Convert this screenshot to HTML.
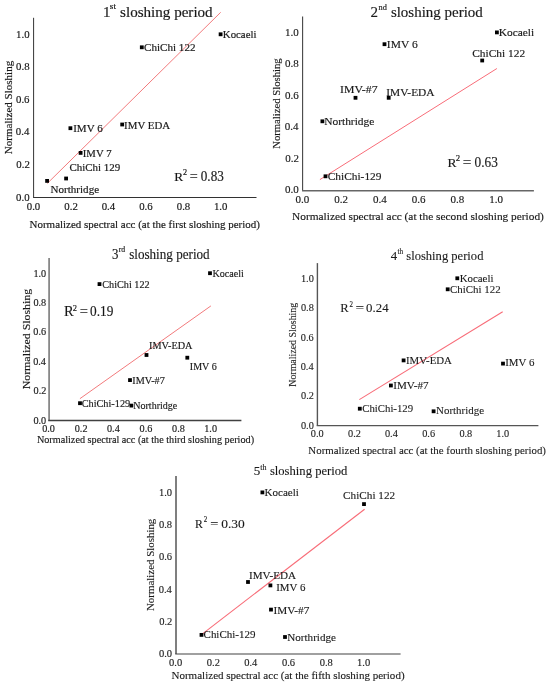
<!DOCTYPE html>
<html><head><meta charset="utf-8"><style>
html,body{margin:0;padding:0;background:#fff;}
body{width:550px;height:684px;overflow:hidden;}
svg{display:block;}
text{font-family:"Liberation Serif","Times New Roman",serif;}
.c1 text{fill:#1a1a1a;stroke:#1a1a1a;stroke-width:0.18px;}
.c2 text{fill:#1a1a1a;stroke:#1a1a1a;stroke-width:0.15px;}
.c3 text{fill:#1a1a1a;stroke:#1a1a1a;stroke-width:0.15px;}
.c4 text{fill:#1a1a1a;stroke:#1a1a1a;stroke-width:0.1px;}
.c5 text{fill:#1a1a1a;stroke:#1a1a1a;stroke-width:0.12px;}
</style></head><body>
<svg width="550" height="684" viewBox="0 0 550 684">
<defs><filter id="soft" x="0" y="0" width="100%" height="100%"><feGaussianBlur stdDeviation="0.3"/></filter></defs>
<rect width="550" height="684" fill="#fff"/>
<g filter="url(#soft)">
<g class="c1">
<line x1="33.6" y1="17.8" x2="33.6" y2="197.5" stroke="#333" stroke-width="1.0"/>
<line x1="33.1" y1="197.5" x2="256.5" y2="197.5" stroke="#333" stroke-width="1.1"/>
<text x="16.11" y="200.62" font-size="10.8">0.0</text>
<text x="16.29" y="168.02" font-size="10.8">0.2</text>
<text x="15.87" y="135.42" font-size="10.8">0.4</text>
<text x="16.02" y="102.82" font-size="10.8">0.6</text>
<text x="16.11" y="70.22" font-size="10.8">0.8</text>
<text x="16.11" y="37.62" font-size="10.8">1.0</text>
<text x="26.75" y="209.50" font-size="10.8">0.0</text>
<text x="64.34" y="209.50" font-size="10.8">0.2</text>
<text x="101.63" y="209.50" font-size="10.8">0.4</text>
<text x="139.21" y="209.50" font-size="10.8">0.6</text>
<text x="176.75" y="209.50" font-size="10.8">0.8</text>
<text x="213.98" y="209.50" font-size="10.8">1.0</text>
<text x="29.58" y="228.00" font-size="10.5" textLength="230.30" lengthAdjust="spacingAndGlyphs">Normalized spectral acc (at the first sloshing period)</text>
<text transform="translate(11.70,154.22) rotate(-90)" x="0" y="0" font-size="10.8" textLength="93.43" lengthAdjust="spacingAndGlyphs">Normalized Sloshing</text>
<text x="103.08" y="16.60" font-size="15">1</text>
<text x="109.82" y="9.20" font-size="8" textLength="6.13" lengthAdjust="spacingAndGlyphs">st</text>
<text x="120.08" y="16.60" font-size="15" textLength="92.59" lengthAdjust="spacingAndGlyphs">sloshing period</text>
<line x1="47.3" y1="183.4" x2="220.7" y2="12.3" stroke="#f27a7c" stroke-width="1.0"/>
<rect x="45.20" y="179.00" width="3.8" height="3.8"/>
<rect x="64.20" y="176.60" width="3.8" height="3.8"/>
<rect x="78.70" y="151.00" width="3.8" height="3.8"/>
<rect x="68.50" y="126.30" width="3.8" height="3.8"/>
<rect x="120.30" y="122.60" width="3.8" height="3.8"/>
<rect x="139.90" y="45.40" width="3.8" height="3.8"/>
<rect x="218.70" y="32.40" width="3.8" height="3.8"/>
<text x="50.58" y="192.70" font-size="10.3" textLength="48.50" lengthAdjust="spacingAndGlyphs">Northridge</text>
<text x="69.45" y="171.20" font-size="10.3" textLength="50.79" lengthAdjust="spacingAndGlyphs">ChiChi 129</text>
<text x="82.81" y="156.80" font-size="10.3" textLength="28.70" lengthAdjust="spacingAndGlyphs">IMV 7</text>
<text x="73.20" y="131.80" font-size="10.3" textLength="29.53" lengthAdjust="spacingAndGlyphs">IMV 6</text>
<text x="124.11" y="128.70" font-size="10.3" textLength="45.97" lengthAdjust="spacingAndGlyphs">IMV EDA</text>
<text x="144.05" y="50.90" font-size="10.3" textLength="51.46" lengthAdjust="spacingAndGlyphs">ChiChi 122</text>
<text x="222.89" y="37.80" font-size="10.3" textLength="33.61" lengthAdjust="spacingAndGlyphs">Kocaeli</text>
<text x="174.21" y="180.70" font-size="13.3">R</text>
<text x="182.94" y="174.50" font-size="7.4" textLength="4.11" lengthAdjust="spacingAndGlyphs">2</text>
<text x="189.89" y="180.70" font-size="14.0" textLength="8.00" lengthAdjust="spacingAndGlyphs">=</text>
<text x="200.80" y="180.70" font-size="14.0" textLength="23.01" lengthAdjust="spacingAndGlyphs">0.83</text>
</g>
<g class="c2">
<line x1="302.6" y1="16.4" x2="302.6" y2="190.7" stroke="#444" stroke-width="1.1"/>
<line x1="302.05" y1="190.7" x2="533.9" y2="190.7" stroke="#666" stroke-width="1.4"/>
<text x="284.97" y="193.18" font-size="11">0.0</text>
<text x="285.16" y="161.68" font-size="11">0.2</text>
<text x="284.73" y="130.18" font-size="11">0.4</text>
<text x="284.88" y="98.68" font-size="11">0.6</text>
<text x="284.97" y="67.18" font-size="11">0.8</text>
<text x="284.97" y="35.68" font-size="11">1.0</text>
<text x="295.43" y="202.50" font-size="11">0.0</text>
<text x="334.32" y="202.50" font-size="11">0.2</text>
<text x="372.90" y="202.50" font-size="11">0.4</text>
<text x="411.78" y="202.50" font-size="11">0.6</text>
<text x="450.62" y="202.50" font-size="11">0.8</text>
<text x="489.15" y="202.50" font-size="11">1.0</text>
<text x="292.07" y="220.10" font-size="10.8" textLength="251.83" lengthAdjust="spacingAndGlyphs">Normalized spectral acc (at the second sloshing period)</text>
<text transform="translate(279.90,148.81) rotate(-90)" x="0" y="0" font-size="11" textLength="90.51" lengthAdjust="spacingAndGlyphs">Normalized Sloshing</text>
<text x="370.54" y="16.60" font-size="15">2</text>
<text x="378.61" y="9.50" font-size="7.6" textLength="8.29" lengthAdjust="spacingAndGlyphs">nd</text>
<text x="390.89" y="16.60" font-size="15" textLength="91.99" lengthAdjust="spacingAndGlyphs">sloshing period</text>
<line x1="319.9" y1="179.6" x2="496.9" y2="68.5" stroke="#f86c78" stroke-width="1.0"/>
<rect x="495.00" y="30.50" width="3.8" height="3.8"/>
<rect x="480.30" y="58.60" width="3.8" height="3.8"/>
<rect x="382.60" y="42.30" width="3.8" height="3.8"/>
<rect x="353.60" y="95.90" width="3.8" height="3.8"/>
<rect x="386.80" y="95.90" width="3.8" height="3.8"/>
<rect x="320.50" y="119.40" width="3.8" height="3.8"/>
<rect x="323.60" y="174.40" width="3.8" height="3.8"/>
<text x="498.77" y="35.50" font-size="10.6" textLength="35.44" lengthAdjust="spacingAndGlyphs">Kocaeli</text>
<text x="472.23" y="56.90" font-size="10.6" textLength="52.89" lengthAdjust="spacingAndGlyphs">ChiChi 122</text>
<text x="386.89" y="48.20" font-size="10.6" textLength="30.76" lengthAdjust="spacingAndGlyphs">IMV 6</text>
<text x="340.08" y="92.70" font-size="10.6" textLength="37.46" lengthAdjust="spacingAndGlyphs">IMV-#7</text>
<text x="386.29" y="96.00" font-size="10.6" textLength="48.29" lengthAdjust="spacingAndGlyphs">IMV-EDA</text>
<text x="324.17" y="124.60" font-size="10.6" textLength="50.23" lengthAdjust="spacingAndGlyphs">Northridge</text>
<text x="327.73" y="180.10" font-size="10.6" textLength="53.73" lengthAdjust="spacingAndGlyphs">ChiChi-129</text>
<text x="447.51" y="166.70" font-size="13.5">R</text>
<text x="455.82" y="160.90" font-size="7.5" textLength="4.36" lengthAdjust="spacingAndGlyphs">2</text>
<text x="462.74" y="166.70" font-size="13.8" textLength="8.61" lengthAdjust="spacingAndGlyphs">=</text>
<text x="474.49" y="166.70" font-size="13.8" textLength="23.33" lengthAdjust="spacingAndGlyphs">0.63</text>
</g>
<g class="c3">
<line x1="49.1" y1="258.1" x2="49.1" y2="420.5" stroke="#888" stroke-width="1.8"/>
<line x1="48.2" y1="420.5" x2="241.4" y2="420.5" stroke="#404040" stroke-width="1.3"/>
<text x="33.44" y="423.62" font-size="10.2">0.0</text>
<text x="33.61" y="394.20" font-size="10.2">0.2</text>
<text x="33.21" y="364.78" font-size="10.2">0.4</text>
<text x="33.36" y="335.36" font-size="10.2">0.6</text>
<text x="33.44" y="305.94" font-size="10.2">0.8</text>
<text x="33.44" y="276.52" font-size="10.2">1.0</text>
<text x="42.23" y="432.00" font-size="10.2">0.0</text>
<text x="74.77" y="432.00" font-size="10.2">0.2</text>
<text x="107.03" y="432.00" font-size="10.2">0.4</text>
<text x="139.56" y="432.00" font-size="10.2">0.6</text>
<text x="172.06" y="432.00" font-size="10.2">0.8</text>
<text x="204.27" y="432.00" font-size="10.2">1.0</text>
<text x="36.90" y="443.10" font-size="10" textLength="217.14" lengthAdjust="spacingAndGlyphs">Normalized spectral acc (at the third sloshing period)</text>
<text transform="translate(29.70,389.34) rotate(-90)" x="0" y="0" font-size="11.3" textLength="100.57" lengthAdjust="spacingAndGlyphs">Normalized Sloshing</text>
<text x="111.98" y="258.50" font-size="14.8" textLength="6.42" lengthAdjust="spacingAndGlyphs">3</text>
<text x="118.65" y="251.60" font-size="7.3" textLength="6.45" lengthAdjust="spacingAndGlyphs">rd</text>
<text x="129.16" y="258.50" font-size="14.8" textLength="80.49" lengthAdjust="spacingAndGlyphs">sloshing period</text>
<line x1="79.9" y1="398.7" x2="210.9" y2="305.9" stroke="#f27a7c" stroke-width="1.0"/>
<rect x="208.10" y="271.30" width="3.8" height="3.8"/>
<rect x="97.60" y="282.20" width="3.8" height="3.8"/>
<rect x="144.60" y="353.10" width="3.8" height="3.8"/>
<rect x="185.40" y="355.80" width="3.8" height="3.8"/>
<rect x="128.10" y="378.20" width="3.8" height="3.8"/>
<rect x="129.50" y="403.70" width="3.8" height="3.8"/>
<rect x="78.10" y="401.30" width="3.8" height="3.8"/>
<text x="212.41" y="276.50" font-size="9.8" textLength="31.38" lengthAdjust="spacingAndGlyphs">Kocaeli</text>
<text x="102.28" y="287.60" font-size="9.8" textLength="47.38" lengthAdjust="spacingAndGlyphs">ChiChi 122</text>
<text x="149.13" y="349.20" font-size="9.8" textLength="43.34" lengthAdjust="spacingAndGlyphs">IMV-EDA</text>
<text x="189.84" y="369.50" font-size="9.8" textLength="26.87" lengthAdjust="spacingAndGlyphs">IMV 6</text>
<text x="132.33" y="383.70" font-size="9.8" textLength="32.46" lengthAdjust="spacingAndGlyphs">IMV-#7</text>
<text x="133.31" y="409.20" font-size="9.8" textLength="43.94" lengthAdjust="spacingAndGlyphs">Northridge</text>
<text x="81.68" y="407.20" font-size="9.8" textLength="48.54" lengthAdjust="spacingAndGlyphs">ChiChi-129</text>
<text x="63.88" y="316.40" font-size="14.5">R</text>
<text x="72.63" y="310.80" font-size="8.5" textLength="4.24" lengthAdjust="spacingAndGlyphs">2</text>
<text x="79.67" y="316.40" font-size="14.8" textLength="8.25" lengthAdjust="spacingAndGlyphs">=</text>
<text x="89.99" y="316.40" font-size="14.8" textLength="23.35" lengthAdjust="spacingAndGlyphs">0.19</text>
</g>
<g class="c4">
<line x1="317.4" y1="263.1" x2="317.4" y2="425.6" stroke="#555" stroke-width="1.4"/>
<line x1="316.7" y1="425.6" x2="538.4" y2="425.6" stroke="#555" stroke-width="1.3"/>
<text x="300.92" y="428.85" font-size="10.3">0.0</text>
<text x="301.09" y="399.49" font-size="10.3">0.2</text>
<text x="300.69" y="370.13" font-size="10.3">0.4</text>
<text x="300.83" y="340.77" font-size="10.3">0.6</text>
<text x="300.92" y="311.41" font-size="10.3">0.8</text>
<text x="300.92" y="282.05" font-size="10.3">1.0</text>
<text x="310.76" y="437.00" font-size="10.3">0.0</text>
<text x="348.01" y="437.00" font-size="10.3">0.2</text>
<text x="384.97" y="437.00" font-size="10.3">0.4</text>
<text x="422.20" y="437.00" font-size="10.3">0.6</text>
<text x="459.40" y="437.00" font-size="10.3">0.8</text>
<text x="496.31" y="437.00" font-size="10.3">1.0</text>
<text x="308.38" y="453.50" font-size="10.3" textLength="237.59" lengthAdjust="spacingAndGlyphs">Normalized spectral acc (at the fourth sloshing period)</text>
<text transform="translate(295.90,386.79) rotate(-90)" x="0" y="0" font-size="11" textLength="84.08" lengthAdjust="spacingAndGlyphs">Normalized Sloshing</text>
<text x="390.74" y="259.90" font-size="12.8">4</text>
<text x="397.43" y="254.30" font-size="7.8" textLength="5.67" lengthAdjust="spacingAndGlyphs">th</text>
<text x="406.28" y="259.90" font-size="12.8" textLength="77.16" lengthAdjust="spacingAndGlyphs">sloshing period</text>
<line x1="359.3" y1="399.6" x2="502.7" y2="311.8" stroke="#f86c78" stroke-width="1.1"/>
<rect x="455.40" y="276.40" width="3.8" height="3.8"/>
<rect x="445.80" y="287.40" width="3.8" height="3.8"/>
<rect x="401.70" y="358.50" width="3.8" height="3.8"/>
<rect x="501.10" y="361.70" width="3.8" height="3.8"/>
<rect x="389.00" y="383.60" width="3.8" height="3.8"/>
<rect x="357.90" y="406.80" width="3.8" height="3.8"/>
<rect x="431.70" y="409.40" width="3.8" height="3.8"/>
<text x="459.68" y="281.50" font-size="10.2" textLength="33.82" lengthAdjust="spacingAndGlyphs">Kocaeli</text>
<text x="450.05" y="292.70" font-size="10.2" textLength="50.54" lengthAdjust="spacingAndGlyphs">ChiChi 122</text>
<text x="406.01" y="364.00" font-size="10.2" textLength="45.86" lengthAdjust="spacingAndGlyphs">IMV-EDA</text>
<text x="505.21" y="366.40" font-size="10.2" textLength="29.12" lengthAdjust="spacingAndGlyphs">IMV 6</text>
<text x="393.20" y="389.10" font-size="10.2" textLength="35.32" lengthAdjust="spacingAndGlyphs">IMV-#7</text>
<text x="362.26" y="411.80" font-size="10.2" textLength="50.88" lengthAdjust="spacingAndGlyphs">ChiChi-129</text>
<text x="436.08" y="414.00" font-size="10.2" textLength="47.90" lengthAdjust="spacingAndGlyphs">Northridge</text>
<text x="340.23" y="311.70" font-size="12.6">R</text>
<text x="349.39" y="307.00" font-size="7.5" textLength="3.49" lengthAdjust="spacingAndGlyphs">2</text>
<text x="355.54" y="311.70" font-size="12.8" textLength="8.61" lengthAdjust="spacingAndGlyphs">=</text>
<text x="366.11" y="311.70" font-size="12.8" textLength="22.49" lengthAdjust="spacingAndGlyphs">0.24</text>
</g>
<g class="c5">
<line x1="176.0" y1="476.0" x2="176.0" y2="654.0" stroke="#555" stroke-width="1.5"/>
<line x1="175.25" y1="654.0" x2="400.6" y2="654.0" stroke="#444" stroke-width="1.1"/>
<text x="158.97" y="657.02" font-size="10.5">0.0</text>
<text x="159.15" y="624.84" font-size="10.5">0.2</text>
<text x="158.74" y="592.66" font-size="10.5">0.4</text>
<text x="158.89" y="560.48" font-size="10.5">0.6</text>
<text x="158.97" y="528.30" font-size="10.5">0.8</text>
<text x="158.97" y="496.12" font-size="10.5">1.0</text>
<text x="169.04" y="665.60" font-size="10.5">0.0</text>
<text x="206.79" y="665.60" font-size="10.5">0.2</text>
<text x="244.24" y="665.60" font-size="10.5">0.4</text>
<text x="281.98" y="665.60" font-size="10.5">0.6</text>
<text x="319.68" y="665.60" font-size="10.5">0.8</text>
<text x="357.07" y="665.60" font-size="10.5">1.0</text>
<text x="171.48" y="678.50" font-size="10.5" textLength="233.10" lengthAdjust="spacingAndGlyphs">Normalized spectral acc (at the fifth sloshing period)</text>
<text transform="translate(153.90,611.02) rotate(-90)" x="0" y="0" font-size="11" textLength="92.33" lengthAdjust="spacingAndGlyphs">Normalized Sloshing</text>
<text x="253.75" y="475.30" font-size="13">5</text>
<text x="260.22" y="469.50" font-size="8.3" textLength="6.28" lengthAdjust="spacingAndGlyphs">th</text>
<text x="269.88" y="475.30" font-size="13" textLength="77.57" lengthAdjust="spacingAndGlyphs">sloshing period</text>
<line x1="201.5" y1="634.6" x2="364.6" y2="509.2" stroke="#f86c78" stroke-width="1.1"/>
<rect x="260.50" y="490.50" width="3.8" height="3.8"/>
<rect x="362.10" y="502.20" width="3.8" height="3.8"/>
<rect x="246.10" y="580.10" width="3.8" height="3.8"/>
<rect x="268.50" y="583.50" width="3.8" height="3.8"/>
<rect x="269.10" y="607.70" width="3.8" height="3.8"/>
<rect x="199.60" y="633.00" width="3.8" height="3.8"/>
<rect x="283.10" y="635.10" width="3.8" height="3.8"/>
<text x="264.58" y="495.50" font-size="10.5" textLength="34.32" lengthAdjust="spacingAndGlyphs">Kocaeli</text>
<text x="343.14" y="498.60" font-size="10.5" textLength="51.97" lengthAdjust="spacingAndGlyphs">ChiChi 122</text>
<text x="249.00" y="579.00" font-size="10.5" textLength="47.07" lengthAdjust="spacingAndGlyphs">IMV-EDA</text>
<text x="276.21" y="591.00" font-size="10.5" textLength="29.12" lengthAdjust="spacingAndGlyphs">IMV 6</text>
<text x="273.60" y="614.00" font-size="10.5" textLength="35.72" lengthAdjust="spacingAndGlyphs">IMV-#7</text>
<text x="203.55" y="638.00" font-size="10.5" textLength="51.90" lengthAdjust="spacingAndGlyphs">ChiChi-129</text>
<text x="287.28" y="641.30" font-size="10.5" textLength="48.71" lengthAdjust="spacingAndGlyphs">Northridge</text>
<text x="195.06" y="527.80" font-size="11.8">R</text>
<text x="203.79" y="522.30" font-size="7.5" textLength="3.49" lengthAdjust="spacingAndGlyphs">2</text>
<text x="210.38" y="527.80" font-size="12.0" textLength="8.13" lengthAdjust="spacingAndGlyphs">=</text>
<text x="221.19" y="527.80" font-size="12.0" textLength="23.52" lengthAdjust="spacingAndGlyphs">0.30</text>
</g>
</g>
</svg>
</body></html>
